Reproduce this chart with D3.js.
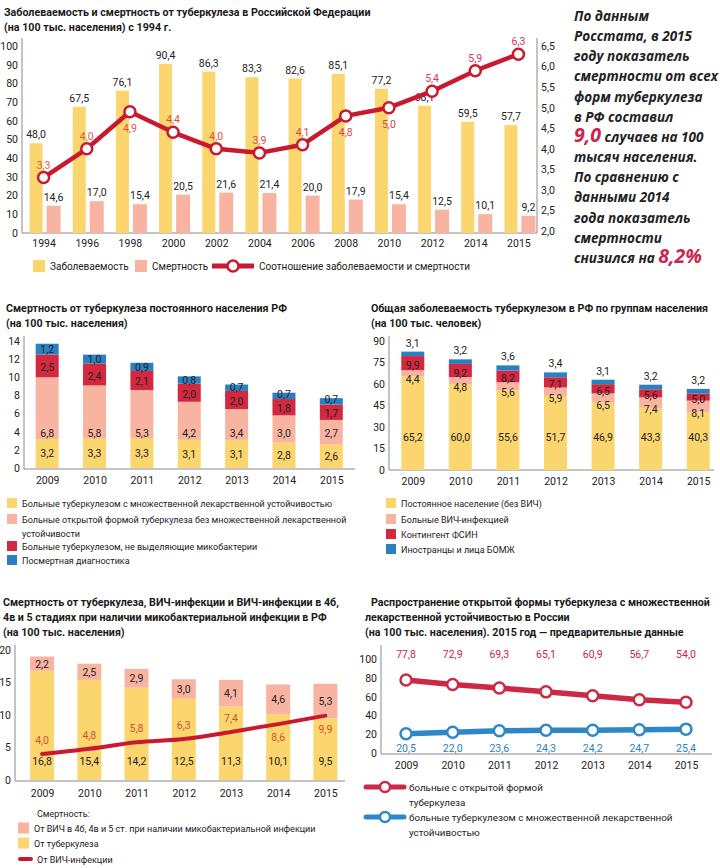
<!DOCTYPE html>
<html lang="ru">
<head>
<meta charset="UTF-8">
<title>Туберкулез в РФ</title>
<script src="https://d3js.org/d3.v7.min.js"></script>
<style>
  body { margin: 0; background: #fff; }
  svg text { font-family: Roboto, "Open Sans", sans-serif; fill: #222; }
  .title { font-weight: bold; font-size: 10.7px; fill: #1a1a1a; }
  .tick text { font-size: 10.5px; }
  .lbl { font-size: 10.5px; }
  .leg { font-size: 9px; }
  svg text.note { font-family: "Open Sans", sans-serif; font-style: italic; font-weight: bold; font-size: 13.5px; fill: #222; }
</style>
</head>
<body>
<svg id="chart" width="720" height="868"></svg>
<script>
// chart 1: incidence / mortality since 1994
const years1 = ["1994", "1996", "1998", "2000", "2002", "2004", "2006", "2008", "2010", "2012", "2014", "2015"];
const incidence1 = [48.0, 67.5, 76.1, 90.4, 86.3, 83.3, 82.6, 85.1, 77.2, 68.1, 59.5, 57.7];
const mortality1 = [14.6, 17.0, 15.4, 20.5, 21.6, 21.4, 20.0, 17.9, 15.4, 12.5, 10.1, 9.2];
const ratio1 = [3.3, 4.0, 4.9, 4.4, 4.0, 3.9, 4.1, 4.8, 5.0, 5.4, 5.9, 6.3];
const leftTicks1 = [0, 10, 20, 30, 40, 50, 60, 70, 80, 90, 100];
const rightTicks1 = [2.0, 2.5, 3.0, 3.5, 4.0, 4.5, 5.0, 5.5, 6.0, 6.5];

// charts 2-5 share the years
const years = ["2009", "2010", "2011", "2012", "2013", "2014", "2015"];

// chart 2: mortality of permanent population
const mdr2 = [3.2, 3.3, 3.3, 3.1, 3.1, 2.8, 2.6];
const openNoMdr2 = [6.8, 5.8, 5.3, 4.2, 3.4, 3.0, 2.7];
const noBact2 = [2.5, 2.4, 2.1, 2.0, 2.0, 1.8, 1.7];
const postmortem2 = [1.2, 1.0, 0.9, 0.8, 0.7, 0.7, 0.7];
const ticks2 = [0, 2, 4, 6, 8, 10, 12, 14];

// chart 3: incidence by population groups
const resident3 = [65.2, 60.0, 55.6, 51.7, 46.9, 43.3, 40.3];
const hiv3 = [4.4, 4.8, 5.6, 5.9, 6.5, 7.4, 8.1];
const fsin3 = [9.9, 9.2, 8.2, 7.1, 6.5, 5.6, 5.0];
const foreign3 = [3.1, 3.2, 3.6, 3.4, 3.1, 3.2, 3.2];
const ticks3 = [0, 15, 30, 45, 60, 75, 90];

// chart 4: mortality from TB and HIV
const tb4 = [16.8, 15.4, 14.2, 12.5, 11.3, 10.1, 9.5];
const hivMyco4 = [2.2, 2.5, 2.9, 3.0, 4.1, 4.6, 5.3];
const hivDeaths4 = [4.0, 4.8, 5.8, 6.3, 7.4, 8.6, 9.9];
const ticks4 = [0, 5, 10, 15, 20];

// chart 5: open form / MDR prevalence
const openForm5 = [77.8, 72.9, 69.3, 65.1, 60.9, 56.7, 54.0];
const mdr5 = [20.5, 22.0, 23.6, 24.3, 24.2, 24.7, 25.4];
const ticks5 = [0, 20, 40, 60, 80, 100];

const noteLines = ["По данным", "Росстата, в 2015", "году показатель", "смертности от всех",
  "форм туберкулеза", "в РФ составил", "9,0 случаев на 100", "тысяч населения.",
  "По сравнению с", "данными 2014", "года показатель", "смертности", "снизился на 8,2%"];
const noteHighlights = ["9,0", "8,2%"];

const YELLOW = "#fbd56e", PINK = "#f8b4a0", RED = "#d3283f", BLUE = "#2b80c2",
      LINE_RED = "#c8192f", AXIS = "#8a8a8a", NOTE_RED = "#c8264c";

const fmt1 = d => d.toFixed(1).replace(".", ",");
const svg = d3.select("#chart");

function title(g, x, y, lines) {
  lines.forEach((t, i) => g.append("text").attr("class", "title")
    .attr("x", x).attr("y", y + i * 15).text(t));
}

function line(g, x1, y1, x2, y2) {
  g.append("line").attr("x1", x1).attr("y1", y1).attr("x2", x2).attr("y2", y2)
    .attr("stroke", AXIS).attr("stroke-width", 1);
}

function leftAxis(g, x, scale, ticks, fmt) {
  g.append("g").attr("transform", `translate(${x},0)`)
    .call(d3.axisLeft(scale).tickValues(ticks).tickSize(0).tickPadding(4).tickFormat(fmt || (d => d)))
    .call(a => a.select(".domain").remove());
}

function bottomAxis(g, y, scale, pad) {
  g.append("g").attr("transform", `translate(0,${y})`)
    .call(d3.axisBottom(scale).tickSize(0).tickPadding(pad))
    .call(a => a.select(".domain").remove());
}

function legendBox(g, x, y, color, lines, size) {
  g.append("rect").attr("x", x).attr("y", y - size / 2).attr("width", size).attr("height", size).attr("fill", color);
  lines.forEach((t, i) => g.append("text").attr("class", "leg")
    .attr("x", x + size + 5).attr("y", y + 3.5 + i * 14).text(t));
}

// ================= Chart 1 =================
const c1 = svg.append("g");
title(c1, 4, 16, ["Заболеваемость и смертность от туберкулеза в Российской Федерации",
  "(на 100 тыс. населения) с 1994 г."]);

const rows1 = years1.map((year, i) => ({ year, inc: incidence1[i], mort: mortality1[i], ratio: ratio1[i] }));
const x1 = d3.scalePoint().domain(years1).range([22, 540]).padding(0.5);
const yL1 = d3.scaleLinear().domain([0, 100]).range([233, 46]);
const yR1 = d3.scaleLinear().domain([2, 6.5]).range([231, 46]);

line(c1, 22, 38, 22, 233);
line(c1, 537, 38, 537, 233);
line(c1, 22, 233, 537, 233);
leftAxis(c1, 22, yL1, leftTicks1);
c1.append("g").attr("transform", "translate(537,0)")
  .call(d3.axisRight(yR1).tickValues(rightTicks1).tickSize(0).tickPadding(4).tickFormat(fmt1))
  .call(a => a.select(".domain").remove());
bottomAxis(c1, 233, x1, 7);

c1.selectAll(".inc").data(rows1).join("rect").attr("class", "inc")
  .attr("x", d => x1(d.year) - 14).attr("width", 13)
  .attr("y", d => yL1(d.inc)).attr("height", d => yL1(0) - yL1(d.inc))
  .attr("fill", YELLOW);
c1.selectAll(".mort").data(rows1).join("rect").attr("class", "mort")
  .attr("x", d => x1(d.year) + 3).attr("width", 14)
  .attr("y", d => yL1(d.mort)).attr("height", d => yL1(0) - yL1(d.mort))
  .attr("fill", PINK);

c1.selectAll(".incl").data(rows1).join("text").attr("class", "lbl")
  .attr("x", d => x1(d.year) - 7.5).attr("y", d => yL1(d.inc) - 5)
  .attr("text-anchor", "middle").text(d => fmt1(d.inc));
c1.selectAll(".mortl").data(rows1).join("text").attr("class", "lbl")
  .attr("x", d => x1(d.year) + 10).attr("y", d => yL1(d.mort) - 5)
  .attr("text-anchor", "middle").text(d => fmt1(d.mort));

const ratioLine = d3.line().x(d => x1(d.year)).y(d => yR1(d.ratio));
c1.append("path").datum(rows1).attr("d", ratioLine)
  .attr("fill", "none").attr("stroke", LINE_RED).attr("stroke-width", 4.5).attr("stroke-linejoin", "round");
c1.selectAll(".rpt").data(rows1).join("circle")
  .attr("cx", d => x1(d.year)).attr("cy", d => yR1(d.ratio)).attr("r", 5.5)
  .attr("fill", "#fff").attr("stroke", LINE_RED).attr("stroke-width", 2.5);

const ratioBelow = new Set(["1998", "2008", "2010"]);
const ratioColor = d3.interpolateRgb("#e0612f", "#d6305f");
c1.selectAll(".rl").data(rows1).join("text").attr("class", "lbl")
  .attr("x", d => x1(d.year))
  .attr("y", d => yR1(d.ratio) + (ratioBelow.has(d.year) ? 20 : -9))
  .attr("text-anchor", "middle")
  .style("fill", (d, i) => ratioColor(i / (rows1.length - 1)))
  .text(d => fmt1(d.ratio));

// legend 1
c1.append("rect").attr("x", 33).attr("y", 260).attr("width", 12).attr("height", 12).attr("fill", YELLOW);
c1.append("text").attr("class", "leg").style("font-size", "10px").attr("x", 50).attr("y", 269.5).text("Заболеваемость");
c1.append("rect").attr("x", 135).attr("y", 260).attr("width", 12).attr("height", 12).attr("fill", PINK);
c1.append("text").attr("class", "leg").style("font-size", "10px").attr("x", 152).attr("y", 269.5).text("Смертность");
c1.append("line").attr("x1", 212).attr("x2", 254).attr("y1", 266).attr("y2", 266)
  .attr("stroke", LINE_RED).attr("stroke-width", 5);
c1.append("circle").attr("cx", 233).attr("cy", 266).attr("r", 5.5)
  .attr("fill", "#fff").attr("stroke", LINE_RED).attr("stroke-width", 2.5);
c1.append("text").attr("class", "leg").style("font-size", "10px").attr("x", 259).attr("y", 269.5)
  .text("Соотношение заболеваемости и смертности");

// note text on the right
const note = svg.append("text").attr("class", "note");
const hlRe = new RegExp("(" + noteHighlights.map(s => s.replace(/[.,%]/g, "\\$&")).join("|") + ")");
noteLines.forEach((ln, i) => {
  const parts = ln.split(hlRe).filter(p => p.length);
  parts.forEach((p, j) => {
    const t = note.append("tspan").text(p);
    if (j === 0) t.attr("x", 574).attr("y", 21 + i * 20.15);
    if (noteHighlights.includes(p)) t.style("fill", NOTE_RED).style("font-size", "19.5px");
  });
});

// ================= Chart 2 =================
const c2 = svg.append("g");
title(c2, 6, 312, ["Смертность от туберкулеза постоянного населения РФ", "(на 100 тыс. населения)"]);

const keys2 = ["mdr", "open", "nobact", "post"];
const colors2 = [YELLOW, PINK, RED, BLUE];
const rows2 = years.map((year, i) => ({ year, mdr: mdr2[i], open: openNoMdr2[i], nobact: noBact2[i], post: postmortem2[i] }));
const x2 = d3.scalePoint().domain(years).range([23.5, 355]).padding(0.5);
const y2 = d3.scaleLinear().domain([0, 14]).range([468, 341]);
const series2 = d3.stack().keys(keys2)(rows2);

line(c2, 24, 336, 24, 469);
line(c2, 24, 469, 355, 469);
leftAxis(c2, 24, y2, ticks2);
bottomAxis(c2, 469, x2, 8);

c2.selectAll(".s").data(series2).join("g").attr("fill", (d, i) => colors2[i])
  .selectAll("rect").data(d => d).join("rect")
  .attr("x", d => x2(d.data.year) - 11.5).attr("width", 23)
  .attr("y", d => y2(d[1])).attr("height", d => y2(d[0]) - y2(d[1]));

// pink labels sit on one row; blue is lifted when it would touch the red one
const mid2 = (k, i) => y2((series2[k][i][0] + series2[k][i][1]) / 2);
const labelY2 = (k, i) => {
  if (k === 1) return y2(3.9);
  if (k === 3) return Math.min(mid2(3, i), mid2(2, i) + 1 - 14);
  return mid2(k, i) + (k === 2 ? 1 : 0);
};
series2.forEach((s, k) => {
  c2.selectAll(null).data(s).join("text").attr("class", "lbl")
    .attr("x", d => x2(d.data.year)).attr("text-anchor", "middle")
    .attr("y", (d, i) => labelY2(k, i) + 4)
    .text(d => fmt1(d.data[s.key]));
});

legendBox(c2, 7, 503, YELLOW, ["Больные туберкулезом с множественной лекарственной устойчивостью"], 10);
legendBox(c2, 7, 519, PINK, ["Больные открытой формой туберкулеза без множественной лекарственной", "устойчивости"], 10);
legendBox(c2, 7, 546, RED, ["Больные туберкулезом, не выделяющие микобактерии"], 10);
legendBox(c2, 7, 560, BLUE, ["Посмертная диагностика"], 10);

// ================= Chart 3 =================
const c3 = svg.append("g");
title(c3, 371, 312, ["Общая заболеваемость туберкулезом в РФ по группам населения", "(на 100 тыс. человек)"]);

const keys3 = ["res", "hiv", "fsin", "foreign"];
const rows3 = years.map((year, i) => ({ year, res: resident3[i], hiv: hiv3[i], fsin: fsin3[i], foreign: foreign3[i] }));
const x3 = d3.scalePoint().domain(years).range([389, 722]).padding(0.5);
const y3 = d3.scaleLinear().domain([0, 90]).range([470, 341]);
const series3 = d3.stack().keys(keys3)(rows3);

line(c3, 389, 336, 389, 470);
line(c3, 389, 470, 714, 470);
leftAxis(c3, 389, y3, ticks3);
bottomAxis(c3, 470, x3, 8);

c3.selectAll(".s").data(series3).join("g").attr("fill", (d, i) => colors2[i])
  .selectAll("rect").data(d => d).join("rect")
  .attr("x", d => x3(d.data.year) - 11.5).attr("width", 23)
  .attr("y", d => y3(d[1])).attr("height", d => y3(d[0]) - y3(d[1]));

// label centres: red inside its segment, pink pushed down so the two never collide
const mid3 = (k, i) => y3((series3[k][i][0] + series3[k][i][1]) / 2);
const labelY3 = (k, i) => {
  if (k === 0) return y3(23);
  if (k === 3) return y3(series3[3][i][1]) - 9;
  const redY = mid3(2, i) + 2;
  if (k === 2) return redY;
  return Math.max(mid3(1, i), redY + 14);
};
series3.forEach((s, k) => {
  c3.selectAll(null).data(s).join("text").attr("class", "lbl")
    .attr("x", d => x3(d.data.year)).attr("text-anchor", "middle")
    .attr("y", (d, i) => labelY3(k, i) + 4)
    .text(d => fmt1(d.data[s.key]));
});

legendBox(c3, 386, 503, YELLOW, ["Постоянное население (без ВИЧ)"], 10);
legendBox(c3, 386, 519, PINK, ["Больные ВИЧ-инфекцией"], 10);
legendBox(c3, 386, 534, RED, ["Контингент ФСИН"], 10);
legendBox(c3, 386, 549, BLUE, ["Иностранцы и лица БОМЖ"], 10);

// ================= Chart 4 =================
const c4 = svg.append("g");
title(c4, 3, 606, ["Смертность от туберкулеза, ВИЧ-инфекции и ВИЧ-инфекции в 4б,",
  "4в и 5 стадиях при наличии микобактериальной инфекции в РФ", "(на 100 тыс. населения)"]);

const keys4 = ["tb", "hivm"];
const colors4 = [YELLOW, PINK];
const rows4 = years.map((year, i) => ({ year, tb: tb4[i], hivm: hivMyco4[i], hiv: hivDeaths4[i] }));
const x4 = d3.scalePoint().domain(years).range([18.5, 349]).padding(0.5);
const y4 = d3.scaleLinear().domain([0, 20]).range([780, 650]);
const series4 = d3.stack().keys(keys4)(rows4);

line(c4, 15, 645, 15, 781);
line(c4, 15, 781, 345, 781);
leftAxis(c4, 15, y4, ticks4);
bottomAxis(c4, 781, x4, 9);

c4.selectAll(".s").data(series4).join("g").attr("fill", (d, i) => colors4[i])
  .selectAll("rect").data(d => d).join("rect")
  .attr("x", d => x4(d.data.year) - 12).attr("width", 24)
  .attr("y", d => y4(d[1])).attr("height", d => y4(d[0]) - y4(d[1]));

series4.forEach((s, k) => {
  c4.selectAll(null).data(s).join("text").attr("class", "lbl")
    .attr("x", d => x4(d.data.year)).attr("text-anchor", "middle")
    .attr("y", d => (k === 0 ? y4(2.9) : y4((d[0] + d[1]) / 2)) + 4)
    .text(d => fmt1(d.data[s.key]));
});

const hivLine = d3.line().x(d => x4(d.year)).y(d => y4(d.hiv)).curve(d3.curveMonotoneX);
c4.append("path").datum(rows4).attr("d", hivLine)
  .attr("fill", "none").attr("stroke", LINE_RED).attr("stroke-width", 4).attr("stroke-linecap", "round");
const hivBelow = new Set(["2014", "2015"]);
c4.selectAll(".hl").data(rows4).join("text").attr("class", "lbl")
  .attr("x", d => x4(d.year)).attr("text-anchor", "middle")
  .attr("y", d => y4(d.hiv) + (hivBelow.has(d.year) ? 17 : -10))
  .style("fill", "#d0532c")
  .text(d => fmt1(d.hiv));

c4.append("text").attr("class", "leg").attr("x", 37).attr("y", 817).text("Смертность:");
legendBox(c4, 18, 828, PINK, ["От ВИЧ в 4б, 4в и 5 ст. при наличии микобактериальной инфекции"], 11);
legendBox(c4, 18, 843, YELLOW, ["От туберкулеза"], 11);
c4.append("line").attr("x1", 20).attr("x2", 31).attr("y1", 859).attr("y2", 859)
  .attr("stroke", LINE_RED).attr("stroke-width", 4).attr("stroke-linecap", "round");
c4.append("text").attr("class", "leg").attr("x", 37).attr("y", 862.5).text("От ВИЧ-инфекции");

// ================= Chart 5 =================
const c5 = svg.append("g");
title(c5, 371, 606, ["Распространение открытой формы туберкулеза с множественной"]);
title(c5, 365, 621, ["лекарственной устойчивостью в России",
  "(на 100 тыс. населения). 2015 год — предварительные данные"]);

const rows5 = years.map((year, i) => ({ year, open: openForm5[i], mdr: mdr5[i] }));
const x5 = d3.scalePoint().domain(years).range([382.7, 709.3]).padding(0.5);
const y5 = d3.scaleLinear().domain([0, 115]).range([753, 645]);

line(c5, 381, 645, 381, 754);
line(c5, 381, 754, 712, 754);
leftAxis(c5, 381, y5, ticks5);
bottomAxis(c5, 754, x5, 8);

const lines5 = [
  { key: "open", color: "#cc2944", lblColor: "#c8264c", lblValue: 100.5 },
  { key: "mdr", color: "#2e87c8", lblColor: "#2b7fc0", lblValue: 0.5 }
];
lines5.forEach(s => {
  c5.append("path").datum(rows5)
    .attr("d", d3.line().x(d => x5(d.year)).y(d => y5(d[s.key])))
    .attr("fill", "none").attr("stroke", s.color).attr("stroke-width", 5.5).attr("stroke-linejoin", "round");
  c5.selectAll(null).data(rows5).join("circle")
    .attr("cx", d => x5(d.year)).attr("cy", d => y5(d[s.key])).attr("r", 5.5)
    .attr("fill", "#fff").attr("stroke", s.color).attr("stroke-width", 2.5);
  c5.selectAll(null).data(rows5).join("text").attr("class", "lbl")
    .attr("x", d => x5(d.year)).attr("text-anchor", "middle")
    .attr("y", y5(s.lblValue) - 1)
    .style("fill", s.lblColor)
    .text(d => fmt1(d[s.key]));
});

const leg5 = [
  { color: "#cc2944", y: 787, text: ["больные с открытой формой", "туберкулеза"] },
  { color: "#2e87c8", y: 817, text: ["больные туберкулезом с множественной лекарственной", "устойчивостью"] }
];
leg5.forEach(l => {
  c5.append("line").attr("x1", 366).attr("x2", 404).attr("y1", l.y).attr("y2", l.y)
    .attr("stroke", l.color).attr("stroke-width", 5).attr("stroke-linecap", "round");
  c5.append("circle").attr("cx", 385).attr("cy", l.y).attr("r", 5)
    .attr("fill", "#fff").attr("stroke", l.color).attr("stroke-width", 2.5);
  l.text.forEach((t, i) => c5.append("text").attr("class", "leg").style("font-size", "9.8px")
    .attr("x", 409).attr("y", l.y + 3.5 + i * 15).text(t));
});
</script>
</body>
</html>
